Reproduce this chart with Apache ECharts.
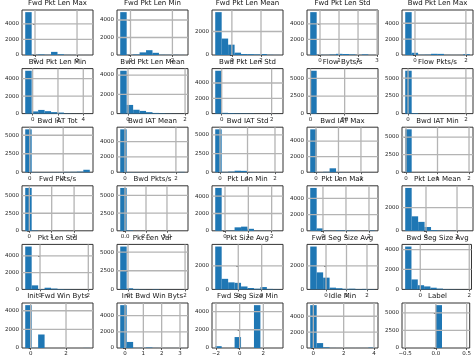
<!DOCTYPE html>
<html><head><meta charset="utf-8">
<script src="https://cdn.jsdelivr.net/npm/echarts@6/dist/echarts.min.js"></script>
<style>html,body{margin:0;padding:0;background:#fff}#c{width:474px;height:357px}</style>
</head><body><div id="c"></div>
<script>
// ---- data ----
const titles = [
  'Fwd Pkt Len Max','Fwd Pkt Len Min','Fwd Pkt Len Mean','Fwd Pkt Len Std','Bwd Pkt Len Max',
  'Bwd Pkt Len Min','Bwd Pkt Len Mean','Bwd Pkt Len Std','Flow Byts/s','Flow Pkts/s',
  'Bwd IAT Tot','Bwd IAT Mean','Bwd IAT Std','Bwd IAT Max','Bwd IAT Min',
  'Fwd Pkts/s','Bwd Pkts/s','Pkt Len Min','Pkt Len Max','Pkt Len Mean',
  'Pkt Len Std','Pkt Len Var','Pkt Size Avg','Fwd Seg Size Avg','Bwd Seg Size Avg',
  'Init Fwd Win Byts','Init Bwd Win Byts','Fwd Seg Size Min','Idle Min','Label'
];
// histogram counts, 10 bins each
const binCounts = [
  [5500, 30, 70, 30, 400, 90, 20, 10, 5, 5],
  [4900, 20, 60, 300, 550, 250, 30, 20, 20, 10],
  [3650, 1400, 880, 200, 80, 70, 50, 80, 20, 10],
  [5500, 30, 20, 60, 150, 130, 70, 20, 80, 10],
  [5400, 280, 30, 40, 150, 140, 20, 10, 10, 100],
  [4900, 250, 420, 280, 170, 120, 30, 10, 5, 5],
  [4450, 900, 400, 280, 150, 70, 40, 20, 10, 5],
  [5600, 100, 70, 50, 40, 30, 10, 5, 5, 5],
  [6100, 8, 3, 2, 1, 1, 0, 0, 0, 1],
  [6050, 80, 10, 5, 3, 2, 1, 1, 1, 1],
  [5800, 30, 20, 20, 20, 30, 40, 50, 80, 330],
  [5600, 30, 20, 10, 10, 10, 5, 5, 10, 40],
  [5750, 40, 80, 200, 180, 30, 10, 5, 5, 5],
  [5500, 20, 50, 500, 20, 10, 5, 5, 5, 5],
  [6100, 5, 2, 10, 5, 5, 2, 2, 1, 1],
  [6100, 50, 5, 2, 1, 1, 1, 1, 0, 1],
  [6050, 60, 5, 2, 1, 1, 1, 1, 0, 1],
  [4950, 10, 30, 400, 480, 230, 20, 10, 5, 5],
  [5300, 300, 30, 20, 60, 60, 40, 10, 5, 50],
  [3700, 1250, 770, 330, 60, 30, 20, 10, 5, 5],
  [5100, 480, 50, 200, 100, 50, 30, 10, 5, 5],
  [5750, 150, 60, 20, 10, 40, 10, 5, 5, 5],
  [3650, 900, 600, 560, 250, 120, 60, 200, 40, 20],
  [3650, 1450, 1000, 150, 100, 50, 60, 30, 40, 20],
  [4300, 1000, 420, 300, 170, 80, 30, 20, 10, 5],
  [4600, 20, 1450, 0, 0, 0, 0, 0, 0, 10],
  [5300, 750, 10, 20, 60, 10, 5, 5, 5, 5],
  [200, 0, 0, 1200, 0, 0, 4700, 0, 0, 3],
  [5400, 620, 80, 10, 5, 5, 5, 5, 5, 50],
  [0, 0, 0, 0, 0, 6100, 0, 0, 0, 0]
];
// data range covered by the 10 bins
const dataMin = [-0.465,-0.49,-1.144,-0.514,-0.383, -0.587,-0.273,-0.26,-0.48,-0.097,
  -0.275,-0.188,-0.175,-0.257,-0.024, -0.182,-0.571,-0.419,-0.554,-1.339,
  -0.613,-0.273,-1.966,-0.771,-0.617, -0.307,-0.262,-2.063,-0.204,-0.5];
const dataMax = [2.606,2.59,3.29,2.88,2.153, 4.513,1.99,2.326,94.2,2.134,
  3.593,2.348,2.174,2.615,2.024, 2.7,7.12,2.348,2.252,2.822,
  2.061,1.99,3.544,2.38,1.962, 3.344,3.262,3.389,4.049,0.5];
// x tick values
const xTicks = [
  [0,2],[0,2],[0,2],[0,1,2,3],[0,2],
  [0,2,4],[0,2],[0,2],[0,50],[0,2],
  [0,2],[0,2],[0,1,2],[0,1,2],[0,1,2],
  [0,1,2],[0,2.5,5],[0,1,2],[0,1,2],[0,2],
  [0,2],[0,2],[0,2],[0,1,2],[0,2],
  [0,2],[0,1,2,3],[-2,0,2],[0,2,4],[-0.5,0,0.5]
];
const xTickDecimals = [0,0,0,0,0, 0,0,0,0,0, 0,0,0,0,0, 0,1,0,0,0, 0,0,0,0,0, 0,0,0,0,1];
// y tick values
const Y2 = [0,2000,4000], Y25 = [0,2500,5000], Y1 = [0,2000];
const yTicks = [
  Y2,Y2,Y1,Y2,Y2,
  Y2,Y2,Y2,Y25,Y25,
  Y25,Y2,Y25,Y2,Y25,
  Y25,Y25,Y2,Y2,Y1,
  Y2,Y25,Y1,Y1,Y2,
  Y2,Y2,Y2,Y2,Y25
];

// ---- chart ----
const FONT = 'DejaVu Sans';
const BAR = '#1f77b4';
const GRIDC = '#b4b4b4';
const fmt = (v, d) => (v < 0 ? '\u2212' : '') + Math.abs(v).toFixed(d);
function renderBin(params, api) {
  const p0 = api.coord([api.value(0), api.value(2)]);
  const p1 = api.coord([api.value(1), 0]);
  return {type: 'rect', shape: {x: p0[0], y: p0[1], width: p1[0] - p0[0], height: p1[1] - p0[1]},
          style: {fill: BAR}};
}
// grid lines at tick values: item = [value, kind] (kind 0 = vertical, 1 = horizontal)
function renderGridLine(params, api) {
  const v = api.value(0), kind = api.value(1), cs = params.coordSys;
  if (kind === 0) {
    const x = api.coord([v, 0])[0];
    return {type: 'line', shape: {x1: x, y1: cs.y, x2: x, y2: cs.y + cs.height},
            style: {stroke: GRIDC, lineWidth: 1.3}};
  }
  const y = api.coord([0, v])[1];
  return {type: 'line', shape: {x1: cs.x, y1: y, x2: cs.x + cs.width, y2: y},
          style: {stroke: GRIDC, lineWidth: 1.3}};
}
const grids = [], xAxes = [], yAxes = [], series = [], titleOpts = [];
titles.forEach((t, i) => {
  const col = i % 5, row = Math.floor(i / 5);
  const L = 22 + 95 * col, T = 10 + 58.6 * row, W = 71, H = 45;
  grids.push({left: L, top: T, width: W, height: H, show: true, borderColor: '#333', borderWidth: 1});
  const a = dataMin[i], b = dataMax[i], r = b - a, d = xTickDecimals[i];
  const tickStyle = {show: true, length: 2, lineStyle: {color: '#333', width: 0.8}};
  xAxes.push({type: 'value', gridIndex: i, min: a - 0.05 * r, max: b + 0.05 * r,
    axisLine: {show: false},
    axisTick: Object.assign({customValues: xTicks[i]}, tickStyle),
    axisLabel: {customValues: xTicks[i], formatter: v => fmt(v, d), fontSize: 5.5, margin: 3,
                color: '#222', fontFamily: FONT},
    splitLine: {show: false}});
  const ymax = Math.max(...binCounts[i]) * 1.05;
  yAxes.push({type: 'value', gridIndex: i, min: 0, max: ymax,
    axisLine: {show: false},
    axisTick: Object.assign({customValues: yTicks[i]}, tickStyle),
    axisLabel: {customValues: yTicks[i], formatter: v => String(v), fontSize: 5.5, margin: 3,
                color: '#222', fontFamily: FONT},
    splitLine: {show: false}});
  const edges = binCounts[i].map((c, k) => [a + k * r / 10, a + (k + 1) * r / 10, c]);
  series.push({type: 'custom', xAxisIndex: i, yAxisIndex: i, data: edges,
    encode: {x: [0, 1], y: 2}, renderItem: renderBin, silent: true, z: 2});
  const gridItems = xTicks[i].map(v => [v, 0]).concat(yTicks[i].filter(v => v > 0).map(v => [v, 1]));
  series.push({type: 'custom', xAxisIndex: i, yAxisIndex: i, data: gridItems,
    renderItem: renderGridLine, silent: true, z: 4});
  titleOpts.push({text: t, left: L + W / 2, top: T - 10.5, textAlign: 'center', padding: 0,
    textStyle: {fontSize: 7, fontWeight: 'normal', color: '#111', fontFamily: FONT, lineHeight: 8}});
});
const chart = echarts.init(document.getElementById('c'));
chart.setOption({animation: false, title: titleOpts, grid: grids,
  xAxis: xAxes, yAxis: yAxes, series: series});
</script></body></html>
